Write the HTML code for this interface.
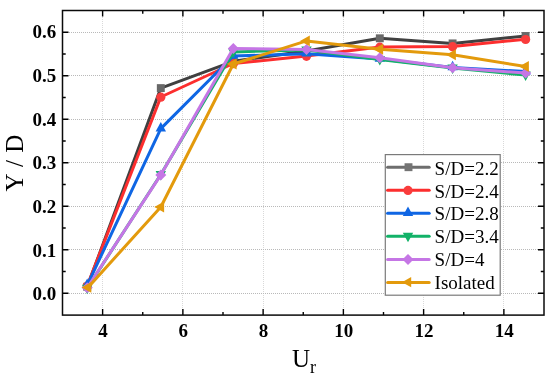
<!DOCTYPE html>
<html lang="en"><head><meta charset="utf-8"><title>Y/D vs Ur</title>
<style>html,body{margin:0;padding:0;background:#fff}svg{display:block}</style>
</head><body>
<svg width="550" height="378" viewBox="0 0 550 378">
<rect width="550" height="378" fill="#fff"/>
<path d="M102.50,11V315.1M182.50,11V315.1M263.50,11V315.1M343.50,11V315.1M423.50,11V315.1M503.50,11V315.1" stroke="#d9d9d9" stroke-width="1" stroke-dasharray="1,1" fill="none"/>
<path d="M63,293.50H544.0M63,249.50H544.0M63,206.50H544.0M63,162.50H544.0M63,119.50H544.0M63,75.50H544.0M63,32.50H544.0" stroke="#b9b9b9" stroke-width="1" stroke-dasharray="1,1" fill="none"/>
<polyline points="87.20,286.80 160.80,88.10 233.30,61.30 306.50,51.00 379.80,38.30 452.60,43.40 525.60,36.00" fill="none" stroke="#404040" stroke-width="3.0" stroke-linejoin="round"/>
<rect x="83.25" y="282.85" width="7.9" height="7.9" fill="#686868"/>
<rect x="156.85" y="84.15" width="7.9" height="7.9" fill="#686868"/>
<rect x="229.35" y="57.35" width="7.9" height="7.9" fill="#686868"/>
<rect x="302.55" y="47.05" width="7.9" height="7.9" fill="#686868"/>
<rect x="375.85" y="34.35" width="7.9" height="7.9" fill="#686868"/>
<rect x="448.65" y="39.45" width="7.9" height="7.9" fill="#686868"/>
<rect x="521.65" y="32.05" width="7.9" height="7.9" fill="#686868"/>
<polyline points="87.20,285.80 160.80,97.00 233.30,63.50 306.50,56.10 379.80,47.00 452.60,46.50 525.60,39.30" fill="none" stroke="#fc2e2e" stroke-width="3.0" stroke-linejoin="round"/>
<circle cx="87.20" cy="286.00" r="4.6" fill="#f93c3c"/>
<circle cx="160.80" cy="97.20" r="4.6" fill="#f93c3c"/>
<circle cx="233.30" cy="63.70" r="4.6" fill="#f93c3c"/>
<circle cx="306.50" cy="56.30" r="4.6" fill="#f93c3c"/>
<circle cx="379.80" cy="47.20" r="4.6" fill="#f93c3c"/>
<circle cx="452.60" cy="46.70" r="4.6" fill="#f93c3c"/>
<circle cx="525.60" cy="39.50" r="4.6" fill="#f93c3c"/>
<polyline points="87.20,285.30 160.80,128.60 233.30,56.00 306.50,53.80 379.80,59.00 452.60,67.50 525.60,71.60" fill="none" stroke="#0f66e4" stroke-width="3.0" stroke-linejoin="round"/>
<polygon points="87.20,278.60 92.40,288.10 82.00,288.10" fill="#0f66e4"/>
<polygon points="160.80,121.90 166.00,131.40 155.60,131.40" fill="#0f66e4"/>
<polygon points="233.30,49.30 238.50,58.80 228.10,58.80" fill="#0f66e4"/>
<polygon points="306.50,47.10 311.70,56.60 301.30,56.60" fill="#0f66e4"/>
<polygon points="379.80,52.30 385.00,61.80 374.60,61.80" fill="#0f66e4"/>
<polygon points="452.60,60.80 457.80,70.30 447.40,70.30" fill="#0f66e4"/>
<polygon points="525.60,64.90 530.80,74.40 520.40,74.40" fill="#0f66e4"/>
<polyline points="87.20,288.20 160.80,174.50 233.30,51.90 306.50,50.00 379.80,59.50 452.60,68.00 525.60,75.10" fill="none" stroke="#12b268" stroke-width="3.0" stroke-linejoin="round"/>
<polygon points="87.20,294.20 92.40,284.70 82.00,284.70" fill="#12b268"/>
<polygon points="160.80,180.50 166.00,171.00 155.60,171.00" fill="#12b268"/>
<polygon points="233.30,57.90 238.50,48.40 228.10,48.40" fill="#12b268"/>
<polygon points="306.50,56.00 311.70,46.50 301.30,46.50" fill="#12b268"/>
<polygon points="379.80,65.50 385.00,56.00 374.60,56.00" fill="#12b268"/>
<polygon points="452.60,74.00 457.80,64.50 447.40,64.50" fill="#12b268"/>
<polygon points="525.60,81.10 530.80,71.60 520.40,71.60" fill="#12b268"/>
<polyline points="87.20,287.80 160.80,174.90 233.30,48.50 306.50,49.60 379.80,57.80 452.60,67.80 525.60,73.00" fill="none" stroke="#c576e5" stroke-width="3.0" stroke-linejoin="round"/>
<polygon points="87.20,282.30 92.70,287.80 87.20,293.30 81.70,287.80" fill="#c576e5"/>
<polygon points="160.80,169.40 166.30,174.90 160.80,180.40 155.30,174.90" fill="#c576e5"/>
<polygon points="233.30,43.00 238.80,48.50 233.30,54.00 227.80,48.50" fill="#c576e5"/>
<polygon points="306.50,44.10 312.00,49.60 306.50,55.10 301.00,49.60" fill="#c576e5"/>
<polygon points="379.80,52.30 385.30,57.80 379.80,63.30 374.30,57.80" fill="#c576e5"/>
<polygon points="452.60,62.30 458.10,67.80 452.60,73.30 447.10,67.80" fill="#c576e5"/>
<polygon points="525.60,67.50 531.10,73.00 525.60,78.50 520.10,73.00" fill="#c576e5"/>
<polyline points="88.00,287.40 160.80,207.00 233.30,64.00 306.50,40.90 379.80,49.20 452.60,54.80 525.60,66.50" fill="none" stroke="#e39a0c" stroke-width="3.0" stroke-linejoin="round"/>
<polygon points="81.50,287.40 91.30,281.95 91.30,292.85" fill="#e39a0c"/>
<polygon points="154.30,207.00 164.10,201.55 164.10,212.45" fill="#e39a0c"/>
<polygon points="226.80,64.00 236.60,58.55 236.60,69.45" fill="#e39a0c"/>
<polygon points="300.00,40.90 309.80,35.45 309.80,46.35" fill="#e39a0c"/>
<polygon points="373.30,49.20 383.10,43.75 383.10,54.65" fill="#e39a0c"/>
<polygon points="446.10,54.80 455.90,49.35 455.90,60.25" fill="#e39a0c"/>
<polygon points="519.10,66.50 528.90,61.05 528.90,71.95" fill="#e39a0c"/>
<path d="M102.62,315.1v-6.0M102.62,10.5v6.0M142.75,315.1v-3.2M142.75,10.5v3.2M182.88,315.1v-6.0M182.88,10.5v6.0M223.00,315.1v-3.2M223.00,10.5v3.2M263.12,315.1v-6.0M263.12,10.5v6.0M303.25,315.1v-3.2M303.25,10.5v3.2M343.38,315.1v-6.0M343.38,10.5v6.0M383.50,315.1v-3.2M383.50,10.5v3.2M423.62,315.1v-6.0M423.62,10.5v6.0M463.75,315.1v-3.2M463.75,10.5v3.2M503.88,315.1v-6.0M503.88,10.5v6.0M62.5,293.30h6.0M544.0,293.30h-6.0M62.5,271.55h3.2M544.0,271.55h-3.2M62.5,249.80h6.0M544.0,249.80h-6.0M62.5,228.05h3.2M544.0,228.05h-3.2M62.5,206.30h6.0M544.0,206.30h-6.0M62.5,184.55h3.2M544.0,184.55h-3.2M62.5,162.80h6.0M544.0,162.80h-6.0M62.5,141.05h3.2M544.0,141.05h-3.2M62.5,119.30h6.0M544.0,119.30h-6.0M62.5,97.55h3.2M544.0,97.55h-3.2M62.5,75.80h6.0M544.0,75.80h-6.0M62.5,54.05h3.2M544.0,54.05h-3.2M62.5,32.30h6.0M544.0,32.30h-6.0" stroke="#000" stroke-width="1.4" fill="none"/>
<rect x="62.5" y="10.5" width="481.5" height="304.60" fill="none" stroke="#0a0a0a" stroke-width="1.5"/>
<g font-family="'Liberation Serif', 'Times New Roman', serif" font-weight="bold" font-size="19px" fill="#000">
<text x="103.03" y="337.3" text-anchor="middle">4</text>
<text x="183.28" y="337.3" text-anchor="middle">6</text>
<text x="263.52" y="337.3" text-anchor="middle">8</text>
<text x="343.77" y="337.3" text-anchor="middle">10</text>
<text x="424.02" y="337.3" text-anchor="middle">12</text>
<text x="504.27" y="337.3" text-anchor="middle">14</text>
<text x="56.2" y="300.20" text-anchor="end">0.0</text>
<text x="56.2" y="256.57" text-anchor="end">0.1</text>
<text x="56.2" y="212.94" text-anchor="end">0.2</text>
<text x="56.2" y="169.31" text-anchor="end">0.3</text>
<text x="56.2" y="125.68" text-anchor="end">0.4</text>
<text x="56.2" y="82.05" text-anchor="end">0.5</text>
<text x="56.2" y="38.42" text-anchor="end">0.6</text>
</g>
<g font-family="'Liberation Serif', 'Times New Roman', serif" fill="#000">
<text transform="translate(23.4,163.0) rotate(-90)" text-anchor="middle" font-size="25px" word-spacing="1.1">Y / D</text>
<text x="292.0" y="366.7" font-size="25px">U<tspan font-size="18px" dy="5.8">r</tspan></text>
</g>
<rect x="385.3" y="154.6" width="114.90" height="140.60" fill="#fff" stroke="#7a7a7a" stroke-width="1.2"/>
<g font-family="'Liberation Serif', 'Times New Roman', serif" font-size="19px" fill="#000">
<path d="M387.6,167.20H429.2" stroke="#6e6e6e" stroke-width="3.0" stroke-linecap="round" fill="none"/>
<rect x="404.55" y="163.25" width="7.9" height="7.9" fill="#747474"/>
<text x="434.6" y="174.60">S/D=2.2</text>
<path d="M387.6,190.25H429.2" stroke="#fc2e2e" stroke-width="3.0" stroke-linecap="round" fill="none"/>
<circle cx="408.00" cy="190.45" r="4.6" fill="#f93c3c"/>
<text x="434.6" y="197.52">S/D=2.4</text>
<path d="M387.6,213.30H429.2" stroke="#0f66e4" stroke-width="3.0" stroke-linecap="round" fill="none"/>
<polygon points="408.00,206.60 413.20,216.10 402.80,216.10" fill="#0f66e4"/>
<text x="434.6" y="220.44">S/D=2.8</text>
<path d="M387.6,236.35H429.2" stroke="#12b268" stroke-width="3.0" stroke-linecap="round" fill="none"/>
<polygon points="408.00,242.35 413.20,232.85 402.80,232.85" fill="#12b268"/>
<text x="434.6" y="243.36">S/D=3.4</text>
<path d="M387.6,259.40H429.2" stroke="#c576e5" stroke-width="3.0" stroke-linecap="round" fill="none"/>
<polygon points="408.00,253.90 413.50,259.40 408.00,264.90 402.50,259.40" fill="#c576e5"/>
<text x="434.6" y="266.28">S/D=4</text>
<path d="M387.6,282.45H429.2" stroke="#e39a0c" stroke-width="3.0" stroke-linecap="round" fill="none"/>
<polygon points="402.00,282.15 411.20,276.95 411.20,287.35" fill="#e39a0c"/>
<text x="434.6" y="289.20">Isolated</text>
</g>
</svg>
</body></html>
